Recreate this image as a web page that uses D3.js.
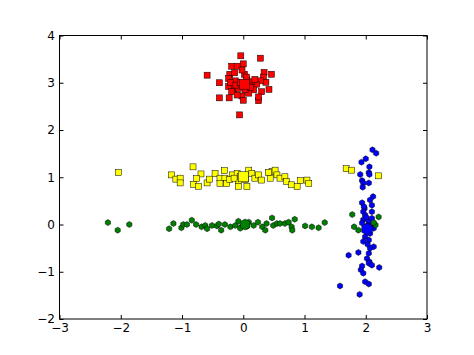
<!DOCTYPE html>
<html>
<head>
<meta charset="utf-8">
<script src="https://cdn.jsdelivr.net/npm/d3@7"></script>
<style>
    body { margin: 0; background: #fff; }
    svg { display: block; }
    .tick text { font-family: 'DejaVu Sans', sans-serif; font-size: 12px; fill: #000; }
    .tick line { stroke: #000; stroke-width: 1; }
</style>
</head>
<body>
<svg id="chart" width="474" height="355"></svg>
<script>
const xTicks = [-3, -2, -1, 0, 1, 2, 3];
const yTicks = [-2, -1, 0, 1, 2, 3, 4];

const redX = [-0.59, -0.04, 0.28, 0.46, -0.39, -0.39, -0.23, -0.06, 0.42, 0.25, -0.19, -0.10, 0.00, -0.22, -0.14, 0.02, -0.24, 0.34, 0.33, 0.37, 0.28, 0.22, 0.30, 0.17, 0.09, 0.25, -0.02, -0.10, -0.16, -0.24, -0.08, -0.13, -0.21, 0.14, 0.10, -0.08, 0.03, -0.19, -0.02, 0.06, 0.19, 0.00, -0.12, 0.05, 0.12, -0.05];
const redY = [3.16, 3.57, 3.52, 3.18, 3.00, 2.68, 2.68, 2.32, 2.86, 2.62, 3.35, 3.35, 3.40, 3.18, 3.21, 3.18, 3.09, 3.22, 3.12, 3.01, 3.04, 2.97, 2.81, 2.85, 2.78, 2.70, 2.72, 2.74, 2.86, 2.92, 2.99, 3.04, 3.00, 3.02, 2.93, 2.88, 2.85, 2.81, 3.27, 3.06, 3.07, 2.63, 2.95, 3.12, 2.90, 3.00];

const yellowX = [-2.04, -1.17, -1.10, -1.03, -1.03, -0.82, -0.69, -0.76, -0.81, -0.73, -0.59, -0.55, -0.46, -0.38, -0.31, -0.30, -0.27, -0.38, -0.18, -0.10, -0.08, -0.08, 0.06, 0.09, 0.14, 0.19, 0.25, 0.30, 0.44, 0.47, 0.52, 0.55, 0.60, 0.68, 0.71, 0.79, 0.88, 0.93, 1.04, 1.07, 0.41, 1.68, 1.77, 2.21, -0.22, -0.05, 0.04, -0.15];
const yellowY = [1.10, 1.05, 0.96, 0.98, 0.88, 1.22, 1.07, 0.97, 0.85, 0.81, 0.88, 0.96, 1.08, 0.98, 1.14, 0.98, 0.87, 0.87, 1.05, 1.08, 0.93, 0.81, 0.80, 1.15, 1.08, 0.98, 1.05, 0.94, 0.98, 1.12, 1.15, 1.05, 0.98, 1.01, 0.91, 0.84, 0.80, 0.93, 0.94, 0.87, 1.10, 1.18, 1.15, 1.03, 0.95, 1.02, 0.95, 0.98];

const greenX = [-2.21, -2.05, -1.86, -1.21, -1.14, -1.01, -0.98, -0.92, -0.84, -0.77, -0.68, -0.62, -0.59, -0.51, -0.43, -0.36, -0.30, -0.21, -0.13, -0.08, -0.03, 0.09, 0.17, 0.24, 0.31, 0.36, 0.38, 0.47, 0.49, 0.55, 0.60, 0.68, 0.74, 0.79, 0.84, 0.80, 1.01, 1.12, 1.23, 1.33, 1.78, 1.81, 1.88, 2.16, 2.21, 2.13, 0.02, -0.05, 0.06, -0.40];
const greenY = [0.04, -0.12, 0.00, -0.09, 0.02, -0.07, 0.00, 0.00, 0.09, 0.00, -0.05, -0.02, -0.09, -0.02, -0.03, -0.12, 0.00, -0.05, -0.02, 0.07, -0.05, 0.05, -0.02, 0.05, -0.05, -0.12, 0.02, 0.14, -0.02, 0.02, 0.02, 0.02, 0.05, -0.05, 0.11, -0.12, -0.03, -0.05, -0.07, 0.04, 0.21, -0.05, -0.12, -0.01, 0.16, 0.04, 0.03, -0.08, -0.04, 0.01];

const blueX = [2.11, 2.17, 2.00, 1.93, 2.06, 2.05, 1.91, 2.06, 1.94, 1.96, 2.05, 1.95, 2.12, 2.07, 1.94, 2.10, 1.98, 1.96, 2.10, 1.99, 2.10, 1.96, 2.05, 1.94, 2.13, 2.07, 1.99, 2.05, 1.96, 2.13, 2.07, 1.88, 2.05, 1.72, 2.02, 2.06, 2.05, 1.94, 2.10, 2.22, 1.92, 1.96, 1.99, 2.05, 1.58, 1.90, 2.01, 2.03, 1.98, 2.08, 1.97, 2.03];
const blueY = [1.58, 1.51, 1.39, 1.32, 1.22, 1.10, 1.06, 1.06, 0.93, 0.88, 0.88, 0.79, 0.59, 0.52, 0.46, 0.41, 0.34, 0.27, 0.27, 0.20, 0.13, 0.10, 0.06, 0.03, -0.08, -0.19, -0.26, -0.33, -0.36, -0.47, -0.50, -0.59, -0.61, -0.65, -0.72, -0.79, -0.82, -0.88, -0.86, -0.91, -0.96, -1.03, -1.21, -1.26, -1.30, -1.48, 0.15, -0.02, -0.12, -0.05, 0.38, -0.42];

// cluster centres, drawn with bigger markers
const centerX = [0.02, 0.00, 0.03, 2.02];
const centerY = [2.97, 1.01, 0.00, -0.10];

const margin = {top: 35.5, right: 47, bottom: 36, left: 59.5};
const width = 474;
const height = 355;

const svg = d3.select('#chart');

const x = d3.scaleLinear().domain([-3, 3]).range([margin.left, width - margin.right]);
const y = d3.scaleLinear().domain([-2, 4]).range([height - margin.bottom, margin.top]);

const hexagon = (r) => {
    const pts = d3.range(6).map(i => {
        const a = Math.PI / 2 + i * Math.PI / 3;
        return [r * Math.cos(a), -r * Math.sin(a)];
    });
    return 'M' + pts.map(p => p.join(',')).join('L') + 'Z';
};

const addSquares = (xs, ys, color, size) => {
    svg.append('g')
        .selectAll('rect')
        .data(xs.map((d, i) => [d, ys[i]]))
        .join('rect')
        .attr('x', d => x(d[0]) - size / 2)
        .attr('y', d => y(d[1]) - size / 2)
        .attr('width', size)
        .attr('height', size)
        .attr('fill', color)
        .attr('stroke', '#000')
        .attr('stroke-width', 0.5);
};

const addHexagons = (xs, ys, color, r) => {
    svg.append('g')
        .selectAll('path')
        .data(xs.map((d, i) => [d, ys[i]]))
        .join('path')
        .attr('d', hexagon(r))
        .attr('transform', d => 'translate(' + x(d[0]) + ',' + y(d[1]) + ')')
        .attr('fill', color)
        .attr('stroke', '#000')
        .attr('stroke-width', 0.5);
};

addSquares(redX, redY, '#ff0000', 6);
addSquares(yellowX, yellowY, '#ffff00', 6);
addHexagons(blueX, blueY, '#0000ff', 3);
addHexagons(greenX, greenY, '#008000', 3);

addSquares([centerX[0]], [centerY[0]], '#ff0000', 10);
addSquares([centerX[1]], [centerY[1]], '#ffff00', 10);
addHexagons([centerX[2]], [centerY[2]], '#008000', 5.5);
addHexagons([centerX[3]], [centerY[3]], '#0000ff', 6);

const fmt = d => d3.format('d')(d).replace('-', '\u2212');

// ticks point inwards on all four sides
svg.append('g')
    .attr('transform', 'translate(0,' + y(-2) + ')')
    .call(d3.axisBottom(x).tickValues(xTicks).tickSize(-4).tickPadding(4).tickFormat(fmt))
    .call(g => g.select('.domain').remove());

svg.append('g')
    .attr('transform', 'translate(0,' + y(4) + ')')
    .call(d3.axisTop(x).tickValues(xTicks).tickSize(-4).tickFormat(''))
    .call(g => g.select('.domain').remove());

svg.append('g')
    .attr('transform', 'translate(' + x(-3) + ',0)')
    .call(d3.axisLeft(y).tickValues(yTicks).tickSize(-4).tickPadding(4.5).tickFormat(fmt))
    .call(g => g.select('.domain').remove());

svg.append('g')
    .attr('transform', 'translate(' + x(3) + ',0)')
    .call(d3.axisRight(y).tickValues(yTicks).tickSize(-4).tickFormat(''))
    .call(g => g.select('.domain').remove());

svg.append('rect')
    .attr('x', x(-3))
    .attr('y', y(4))
    .attr('width', x(3) - x(-3))
    .attr('height', y(-2) - y(4))
    .attr('fill', 'none')
    .attr('stroke', '#000')
    .attr('stroke-width', 1);
</script>
</body>
</html>
